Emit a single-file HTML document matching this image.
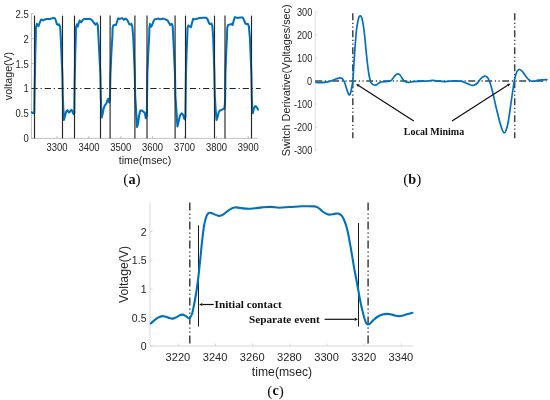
<!DOCTYPE html>
<html><head><meta charset="utf-8"><title>Figure</title>
<style>
html,body{margin:0;padding:0;background:#fff;}
body{width:550px;height:400px;overflow:hidden;}
svg{display:block;}
.tk{font-family:"Liberation Sans",Arial,sans-serif;font-size:11px;fill:#262626;}
.lb{font-family:"Liberation Sans",Arial,sans-serif;font-size:10.6px;fill:#262626;}
.an{font-family:"Liberation Serif","Times New Roman",serif;font-weight:bold;font-size:10px;fill:#111;}
.cap{font-family:"Liberation Serif","Times New Roman",serif;font-weight:bold;font-size:14.2px;fill:#111;}
.capn{font-weight:normal;font-size:15.3px;}
.tc{font-size:11.7px;}
.lbb{font-size:10.8px;}
.lc{font-size:12.2px;}
.ac{font-size:11.25px;}
</style></head>
<body>
<svg width="550" height="400" viewBox="0 0 550 400">
<rect width="550" height="400" fill="#fff"/>
<g id="pa">
<path d="M31.5,13.5V138.4H258.0" fill="none" stroke="#b4b4b4" stroke-width="0.8"/>
<path d="M31.5,138.4h2.2" stroke="#a0a0a0" stroke-width="0.7"/>
<text transform="translate(28.7,142.3) scale(0.86,1)" text-anchor="end" class="tk">0</text>
<path d="M31.5,113.5h2.2" stroke="#a0a0a0" stroke-width="0.7"/>
<text transform="translate(28.7,117.4) scale(0.86,1)" text-anchor="end" class="tk">0.5</text>
<path d="M31.5,88.5h2.2" stroke="#a0a0a0" stroke-width="0.7"/>
<text transform="translate(28.7,92.4) scale(0.86,1)" text-anchor="end" class="tk">1</text>
<path d="M31.5,63.6h2.2" stroke="#a0a0a0" stroke-width="0.7"/>
<text transform="translate(28.7,67.5) scale(0.86,1)" text-anchor="end" class="tk">1.5</text>
<path d="M31.5,38.6h2.2" stroke="#a0a0a0" stroke-width="0.7"/>
<text transform="translate(28.7,42.5) scale(0.86,1)" text-anchor="end" class="tk">2</text>
<path d="M31.5,13.7h2.2" stroke="#a0a0a0" stroke-width="0.7"/>
<text transform="translate(28.7,17.6) scale(0.86,1)" text-anchor="end" class="tk">2.5</text>
<path d="M57.0,138.4v-2.2" stroke="#a0a0a0" stroke-width="0.7"/>
<text transform="translate(57.0,151.1) scale(0.86,1)" text-anchor="middle" class="tk">3300</text>
<path d="M88.9,138.4v-2.2" stroke="#a0a0a0" stroke-width="0.7"/>
<text transform="translate(88.9,151.1) scale(0.86,1)" text-anchor="middle" class="tk">3400</text>
<path d="M120.8,138.4v-2.2" stroke="#a0a0a0" stroke-width="0.7"/>
<text transform="translate(120.8,151.1) scale(0.86,1)" text-anchor="middle" class="tk">3500</text>
<path d="M152.6,138.4v-2.2" stroke="#a0a0a0" stroke-width="0.7"/>
<text transform="translate(152.6,151.1) scale(0.86,1)" text-anchor="middle" class="tk">3600</text>
<path d="M184.5,138.4v-2.2" stroke="#a0a0a0" stroke-width="0.7"/>
<text transform="translate(184.5,151.1) scale(0.86,1)" text-anchor="middle" class="tk">3700</text>
<path d="M216.4,138.4v-2.2" stroke="#a0a0a0" stroke-width="0.7"/>
<text transform="translate(216.4,151.1) scale(0.86,1)" text-anchor="middle" class="tk">3800</text>
<path d="M248.3,138.4v-2.2" stroke="#a0a0a0" stroke-width="0.7"/>
<text transform="translate(248.3,151.1) scale(0.86,1)" text-anchor="middle" class="tk">3900</text>
<text x="145" y="164" text-anchor="middle" class="lb">time(msec)</text>
<text transform="translate(12,76) rotate(-90)" text-anchor="middle" class="lb">voltage(V)</text>
<path d="M31.5,88.5H260.6" stroke="#222" stroke-width="1" stroke-dasharray="6.2 2.9 1.2 2.9" fill="none"/>
<polyline points="31.8,112.2 33.0,113.3 34.2,112.8 34.3,112.8 34.5,96.0 34.9,75.0 35.3,52.0 35.8,36.0 35.9,28.0 36.9,23.9 37.7,25.2 38.5,26.1 39.6,23.0 41.1,19.6 42.3,19.9 43.4,20.3 45.0,19.4 46.8,18.9 49.8,19.0 51.5,18.5 53.5,17.9 55.0,18.4 56.0,21.0 56.9,24.2 58.0,25.0 59.1,24.3 60.2,27.0 60.8,38.0 61.5,55.0 62.4,75.0 62.8,96.0 63.4,110.0 63.9,120.0 65.0,116.0 66.2,111.5 67.5,110.2 68.6,112.2 69.4,112.4 70.4,110.8 71.6,109.8 72.6,112.0 73.6,114.2 74.3,113.5 74.3,113.5 74.5,96.0 74.8,75.0 75.3,52.0 75.8,36.0 75.9,28.0 77.0,24.3 77.8,26.6 78.6,23.5 79.6,20.5 80.4,21.6 81.1,22.3 82.5,20.3 84.1,18.9 86.0,18.9 88.0,19.0 90.5,19.0 92.0,20.2 93.2,21.8 94.2,23.1 95.4,24.6 96.9,23.2 97.8,25.4 98.5,38.0 99.4,55.0 100.4,75.0 100.8,96.0 101.3,110.0 101.7,117.5 102.6,114.0 103.8,108.0 105.0,105.2 106.3,103.6 107.3,100.5 108.2,98.8 109.2,102.5 109.9,99.0 110.4,75.0 111.4,52.0 112.4,36.0 112.6,28.0 113.4,25.2 114.8,25.0 116.0,25.0 116.9,22.0 118.2,18.3 119.4,19.0 120.6,18.6 122.0,18.1 123.0,18.8 123.9,19.7 124.8,19.0 125.8,18.6 127.0,19.8 128.0,21.3 129.1,23.9 129.9,24.6 131.4,23.9 132.3,26.5 133.3,38.0 134.0,55.0 134.8,75.0 135.2,96.0 136.1,110.0 137.0,127.0 138.0,124.0 139.0,116.0 140.3,110.6 142.0,110.6 143.5,111.8 144.8,113.0 145.8,118.2 146.6,116.0 146.8,116.0 147.1,96.0 147.3,75.0 148.3,52.0 149.2,36.0 149.4,28.0 150.0,23.9 151.1,26.8 152.2,25.0 153.2,22.0 154.5,19.4 156.3,18.9 158.2,18.6 160.1,19.4 161.6,18.9 163.1,18.6 165.4,19.4 167.6,20.5 169.1,23.1 170.2,25.0 171.8,23.9 172.7,26.6 173.3,38.0 174.1,55.0 175.0,75.0 175.4,96.0 176.4,110.0 177.4,126.5 178.5,122.0 180.0,115.5 181.5,113.4 183.0,114.5 184.2,118.8 185.0,119.4 185.5,116.0 185.4,116.0 185.7,96.0 185.9,75.0 186.6,52.0 187.3,36.0 187.5,28.0 188.4,25.4 189.7,26.6 190.9,27.2 192.0,23.0 193.1,18.9 194.6,19.2 196.1,19.1 198.0,18.5 199.5,18.1 203.0,17.8 206.2,17.7 207.4,19.0 208.4,21.5 209.2,23.5 210.0,24.1 211.5,23.5 212.4,26.6 213.2,38.0 213.8,55.0 214.4,75.0 214.8,96.0 215.7,110.0 216.5,120.0 217.6,117.0 218.8,112.0 220.0,110.4 221.5,110.0 223.0,109.0 224.3,108.8 224.9,104.0 225.2,96.0 225.4,75.0 226.2,52.0 227.0,36.0 227.2,28.0 228.1,25.0 230.0,24.5 231.9,24.1 232.6,25.0 233.6,21.0 234.9,17.1 236.4,17.6 237.9,17.9 240.0,17.6 242.4,17.4 243.2,18.4 243.9,19.8 245.4,23.5 246.7,23.9 248.0,24.1 248.9,26.6 249.9,38.0 250.6,55.0 251.4,75.0 251.8,96.0 252.3,110.0 252.8,113.2 253.8,109.0 255.0,106.2 256.0,106.2 257.0,107.8 258.0,109.6" fill="none" stroke="#0072BD" stroke-width="2.05" stroke-linejoin="round" stroke-linecap="round"/>
<path d="M34.5,15.6V138.4" stroke="#262626" stroke-width="1.15"/>
<path d="M62.5,15.6V138.4" stroke="#262626" stroke-width="1.15"/>
<path d="M74.5,15.6V138.4" stroke="#262626" stroke-width="1.15"/>
<path d="M100.5,15.6V138.4" stroke="#262626" stroke-width="1.15"/>
<path d="M110.1,15.6V138.4" stroke="#262626" stroke-width="1.15"/>
<path d="M134.9,15.6V138.4" stroke="#262626" stroke-width="1.15"/>
<path d="M147.0,15.6V138.4" stroke="#262626" stroke-width="1.15"/>
<path d="M175.1,15.6V138.4" stroke="#262626" stroke-width="1.15"/>
<path d="M185.5,15.6V138.4" stroke="#262626" stroke-width="1.15"/>
<path d="M214.5,15.6V138.4" stroke="#262626" stroke-width="1.15"/>
<path d="M225.0,15.6V138.4" stroke="#262626" stroke-width="1.15"/>
<path d="M251.5,15.6V138.4" stroke="#262626" stroke-width="1.15"/>
<text x="132" y="183.6" text-anchor="middle" class="cap"><tspan class="capn" dy="0.5">(</tspan><tspan dy="-0.5">a</tspan><tspan class="capn" dy="0.5">)</tspan></text>
</g>
<g id="pb">
<path d="M315.2,12.0V150.0" stroke="#d6d6d6" stroke-width="0.8"/>
<path d="M315.2,150.0h2.2" stroke="#c4c4c4" stroke-width="0.7"/>
<text transform="translate(312.2,153.9) scale(0.83,1)" text-anchor="end" class="tk">-300</text>
<path d="M315.2,127.0h2.2" stroke="#c4c4c4" stroke-width="0.7"/>
<text transform="translate(312.2,130.9) scale(0.83,1)" text-anchor="end" class="tk">-200</text>
<path d="M315.2,104.0h2.2" stroke="#c4c4c4" stroke-width="0.7"/>
<text transform="translate(312.2,107.9) scale(0.83,1)" text-anchor="end" class="tk">-100</text>
<path d="M315.2,81.0h2.2" stroke="#c4c4c4" stroke-width="0.7"/>
<text transform="translate(312.2,84.9) scale(0.83,1)" text-anchor="end" class="tk">0</text>
<path d="M315.2,58.0h2.2" stroke="#c4c4c4" stroke-width="0.7"/>
<text transform="translate(312.2,61.9) scale(0.83,1)" text-anchor="end" class="tk">100</text>
<path d="M315.2,35.0h2.2" stroke="#c4c4c4" stroke-width="0.7"/>
<text transform="translate(312.2,38.9) scale(0.83,1)" text-anchor="end" class="tk">200</text>
<path d="M315.2,12.0h2.2" stroke="#c4c4c4" stroke-width="0.7"/>
<text transform="translate(312.2,15.9) scale(0.83,1)" text-anchor="end" class="tk">300</text>
<text transform="translate(289.5,80.3) rotate(-90)" text-anchor="middle" class="lb lbb">Switch Derivative(Vpltages/sec)</text>
<path d="M315.2,81.0H546.5" stroke="#444" stroke-width="1.5" stroke-dasharray="7 2.6 1.2 2.5 1.2 2.5" fill="none"/>
<path d="M352.8,13.2V138.3" stroke="#444" stroke-width="1.5" stroke-dasharray="7 2.6 1.2 2.5 1.2 2.5" fill="none"/>
<path d="M514.7,13.2V138.3" stroke="#444" stroke-width="1.5" stroke-dasharray="7 2.6 1.2 2.5 1.2 2.5" fill="none"/>
<path d="M316.0,82.4C316.8,82.5 319.3,82.7 321.0,82.7C322.7,82.7 324.3,82.5 326.0,82.2C327.7,81.9 329.3,81.4 331.0,80.9C332.7,80.4 334.5,79.5 336.0,79.0C337.5,78.5 338.9,77.9 340.0,77.9C341.1,77.9 341.8,78.1 342.5,78.8C343.2,79.5 343.8,80.6 344.5,82.2C345.2,83.8 345.9,86.6 346.5,88.5C347.1,90.4 347.8,92.5 348.3,93.6C348.8,94.7 349.1,95.1 349.5,94.9C349.9,94.7 350.4,93.8 350.8,92.3C351.2,90.8 351.6,88.2 352.0,86.0C352.4,83.8 352.6,84.2 353.0,79.0C353.4,73.8 353.9,63.2 354.5,55.0C355.1,46.8 355.8,36.1 356.5,30.0C357.2,23.9 357.9,20.9 358.5,18.5C359.1,16.1 359.7,15.8 360.3,15.8C360.9,15.8 361.4,16.1 362.0,18.5C362.6,20.9 363.2,23.9 364.0,30.0C364.8,36.1 365.7,47.5 366.5,55.0C367.3,62.5 368.2,70.4 369.0,75.0C369.8,79.6 370.3,80.9 371.0,82.5C371.7,84.1 372.4,84.1 373.0,84.6C373.6,85.0 374.2,85.2 374.9,85.2C375.6,85.2 376.3,84.8 377.0,84.4C377.7,84.0 378.3,83.4 379.0,83.0C379.7,82.6 380.2,82.2 381.0,82.0C381.8,81.8 382.8,81.7 384.0,81.6C385.2,81.5 386.9,81.6 388.0,81.5C389.1,81.4 389.9,81.3 390.7,80.8C391.5,80.3 392.2,79.2 393.0,78.3C393.8,77.3 394.7,75.8 395.5,75.1C396.3,74.3 396.9,73.8 397.7,73.8C398.4,73.8 399.2,74.2 400.0,75.0C400.8,75.8 401.6,77.5 402.3,78.6C403.1,79.6 403.7,80.7 404.5,81.3C405.3,81.9 406.1,82.0 407.0,82.2C407.9,82.4 408.6,82.4 409.6,82.3C410.6,82.2 411.8,81.8 413.0,81.7C414.2,81.6 415.5,81.5 417.0,81.4C418.5,81.3 420.2,81.3 422.0,81.2C423.8,81.1 426.2,81.1 428.0,81.0C429.8,80.9 431.3,80.4 433.0,80.4C434.7,80.4 436.2,80.8 438.0,81.0C439.8,81.2 442.0,81.6 444.0,81.6C446.0,81.6 448.0,81.3 450.0,81.2C452.0,81.1 454.2,80.8 456.0,80.8C457.8,80.8 459.3,80.8 461.0,81.2C462.7,81.6 464.5,82.4 466.0,83.0C467.5,83.6 468.7,84.4 470.0,84.8C471.3,85.2 472.4,85.5 473.6,85.3C474.8,85.1 475.9,84.5 477.0,83.5C478.1,82.5 479.4,80.2 480.5,79.0C481.6,77.8 482.7,77.0 483.5,76.6C484.3,76.1 484.8,76.1 485.5,76.3C486.2,76.5 486.8,76.6 487.5,77.5C488.2,78.4 488.8,79.2 489.6,81.5C490.4,83.8 491.4,86.9 492.4,91.0C493.4,95.1 494.6,101.0 495.8,106.0C497.0,111.0 498.4,117.0 499.5,121.0C500.6,125.0 501.5,128.0 502.3,130.0C503.1,132.0 503.6,132.8 504.2,132.9C504.8,133.0 505.3,132.4 506.0,130.5C506.7,128.6 507.5,126.1 508.3,121.5C509.1,116.9 510.2,108.6 511.0,103.0C511.8,97.4 512.6,92.1 513.2,88.0C513.8,83.9 514.2,81.1 514.8,78.5C515.3,75.9 515.9,73.9 516.5,72.5C517.1,71.1 517.8,70.5 518.3,70.0C518.8,69.5 519.1,69.4 519.6,69.5C520.1,69.6 520.9,69.9 521.5,70.5C522.1,71.1 522.8,72.0 523.5,73.0C524.2,74.0 525.2,75.5 526.0,76.5C526.8,77.5 527.7,78.5 528.5,79.3C529.3,80.0 530.1,80.7 531.0,81.0C531.9,81.3 532.8,81.3 534.0,81.2C535.2,81.1 536.7,80.4 538.0,80.2C539.3,80.0 540.5,79.9 542.0,79.8C543.5,79.7 546.0,79.6 546.8,79.6" fill="none" stroke="#0072BD" stroke-width="1.7" stroke-linejoin="round" stroke-linecap="round"/>
<path d="M413.8,121.0L358.9,85.7" stroke="#111" stroke-width="1.25" fill="none"/><path d="M356.0,83.9L359.7,84.5L358.1,87.0Z" fill="#111"/>
<path d="M452.0,121.0L507.7,85.3" stroke="#111" stroke-width="1.25" fill="none"/><path d="M510.6,83.5L508.5,86.6L506.9,84.1Z" fill="#111"/>
<text x="434" y="135.2" text-anchor="middle" class="an">Local Minima</text>
<text x="412.3" y="183.6" text-anchor="middle" class="cap"><tspan class="capn" dy="0.5">(</tspan><tspan dy="-0.5">b</tspan><tspan class="capn" dy="0.5">)</tspan></text>
</g>
<g id="pc">
<path d="M150.0,202.4V346.0H413.0" fill="none" stroke="#cdcdcd" stroke-width="0.8"/>
<path d="M150.0,346.0h2.5" stroke="#c8c8c8" stroke-width="0.7"/>
<text transform="translate(146.5,350.1) scale(0.9,1)" text-anchor="end" class="tk tc">0</text>
<path d="M150.0,317.4h2.5" stroke="#c8c8c8" stroke-width="0.7"/>
<text transform="translate(146.5,321.5) scale(0.9,1)" text-anchor="end" class="tk tc">0.5</text>
<path d="M150.0,288.8h2.5" stroke="#c8c8c8" stroke-width="0.7"/>
<text transform="translate(146.5,292.9) scale(0.9,1)" text-anchor="end" class="tk tc">1</text>
<path d="M150.0,260.2h2.5" stroke="#c8c8c8" stroke-width="0.7"/>
<text transform="translate(146.5,264.3) scale(0.9,1)" text-anchor="end" class="tk tc">1.5</text>
<path d="M150.0,231.6h2.5" stroke="#c8c8c8" stroke-width="0.7"/>
<text transform="translate(146.5,235.7) scale(0.9,1)" text-anchor="end" class="tk tc">2</text>
<path d="M178.3,346.0v-2.5" stroke="#c8c8c8" stroke-width="0.7"/>
<text transform="translate(177.9,360.5) scale(0.95,1)" text-anchor="middle" class="tk tc">3220</text>
<path d="M215.5,346.0v-2.5" stroke="#c8c8c8" stroke-width="0.7"/>
<text transform="translate(215.1,360.5) scale(0.95,1)" text-anchor="middle" class="tk tc">3240</text>
<path d="M252.6,346.0v-2.5" stroke="#c8c8c8" stroke-width="0.7"/>
<text transform="translate(252.2,360.5) scale(0.95,1)" text-anchor="middle" class="tk tc">3260</text>
<path d="M289.8,346.0v-2.5" stroke="#c8c8c8" stroke-width="0.7"/>
<text transform="translate(289.4,360.5) scale(0.95,1)" text-anchor="middle" class="tk tc">3280</text>
<path d="M327.0,346.0v-2.5" stroke="#c8c8c8" stroke-width="0.7"/>
<text transform="translate(326.6,360.5) scale(0.95,1)" text-anchor="middle" class="tk tc">3300</text>
<path d="M364.1,346.0v-2.5" stroke="#c8c8c8" stroke-width="0.7"/>
<text transform="translate(363.7,360.5) scale(0.95,1)" text-anchor="middle" class="tk tc">3320</text>
<path d="M401.3,346.0v-2.5" stroke="#c8c8c8" stroke-width="0.7"/>
<text transform="translate(400.9,360.5) scale(0.95,1)" text-anchor="middle" class="tk tc">3340</text>
<text x="282" y="376.3" text-anchor="middle" class="lb lc">time(msec)</text>
<text transform="translate(127.5,274.5) rotate(-90)" text-anchor="middle" class="lb lc">Voltage(V)</text>
<path d="M189.8,202.6V346" stroke="#333" stroke-width="1.4" stroke-dasharray="8 2.8 1.3 2.8 1.3 2.8" fill="none"/>
<path d="M368.1,202.6V346" stroke="#333" stroke-width="1.4" stroke-dasharray="8 2.8 1.3 2.8 1.3 2.8" fill="none"/>
<path d="M198.5,225.4V326.5" stroke="#1a1a1a" stroke-width="1"/>
<path d="M358.5,223V326.5" stroke="#1a1a1a" stroke-width="1"/>
<path d="M150.8,323.4C151.3,322.9 152.8,321.6 154.0,320.6C155.2,319.6 156.6,318.4 158.0,317.6C159.4,316.9 161.2,316.2 162.5,316.1C163.8,316.0 164.8,316.5 166.0,316.8C167.2,317.1 168.4,317.8 169.5,318.1C170.6,318.4 171.5,318.7 172.6,318.6C173.7,318.5 174.8,317.9 176.0,317.4C177.2,316.9 178.4,315.9 179.5,315.4C180.6,314.9 181.4,314.5 182.5,314.6C183.6,314.7 184.8,315.6 186.0,316.2C187.2,316.8 188.4,318.7 189.4,318.3C190.4,317.9 191.2,316.2 192.0,314.0C192.8,311.8 193.3,308.3 194.0,305.0C194.7,301.7 195.3,298.2 196.0,294.0C196.7,289.8 197.3,285.3 198.0,280.0C198.7,274.7 199.3,268.3 200.0,262.0C200.7,255.7 201.3,248.0 202.0,242.0C202.7,236.0 203.3,230.1 204.0,226.0C204.7,221.9 205.4,219.5 206.0,217.5C206.6,215.5 207.2,214.6 207.8,213.8C208.4,213.0 208.9,212.9 209.6,212.8C210.3,212.7 211.1,212.9 212.0,213.2C212.9,213.5 214.1,214.2 215.0,214.6C215.9,215.0 216.7,215.3 217.5,215.5C218.3,215.7 218.9,216.0 219.8,215.8C220.7,215.7 221.8,215.3 223.0,214.6C224.2,213.9 225.7,212.6 227.0,211.6C228.3,210.6 229.8,209.5 231.0,208.8C232.2,208.1 233.3,207.7 234.5,207.5C235.7,207.3 236.6,207.4 238.0,207.6C239.4,207.8 241.2,208.2 243.0,208.4C244.8,208.6 246.8,208.8 248.8,208.8C250.8,208.8 252.8,208.4 255.0,208.2C257.2,208.0 259.4,207.6 262.0,207.4C264.6,207.2 267.7,206.9 270.6,206.9C273.5,206.9 276.3,207.7 279.5,207.7C282.7,207.7 286.4,207.2 290.0,207.0C293.6,206.8 298.4,206.4 301.4,206.3C304.4,206.2 305.8,206.2 308.0,206.2C310.2,206.2 312.8,206.2 314.5,206.4C316.2,206.6 316.8,206.9 318.0,207.6C319.2,208.3 320.4,209.8 321.7,210.8C322.9,211.8 324.3,212.8 325.5,213.4C326.7,214.0 327.8,214.5 329.0,214.6C330.2,214.7 331.8,214.4 333.0,214.2C334.2,214.0 335.2,213.7 336.0,213.6C336.8,213.5 337.2,213.3 338.0,213.5C338.8,213.7 339.8,214.0 340.5,214.6C341.2,215.2 341.8,215.7 342.5,216.8C343.2,217.9 343.9,219.5 344.5,221.0C345.1,222.5 345.7,224.0 346.3,226.0C346.9,228.0 347.2,229.3 348.0,233.0C348.8,236.7 349.8,242.5 350.8,248.0C351.8,253.5 352.8,260.3 353.8,266.0C354.8,271.7 355.8,276.7 356.8,282.0C357.8,287.3 358.8,293.2 359.7,298.0C360.6,302.8 361.6,307.4 362.5,311.0C363.4,314.6 364.1,317.4 364.8,319.5C365.5,321.6 365.9,322.7 366.5,323.5C367.1,324.3 367.6,324.4 368.3,324.4C369.0,324.3 369.6,324.0 370.5,323.2C371.4,322.4 372.8,320.7 374.0,319.6C375.2,318.5 376.6,317.3 378.0,316.5C379.4,315.7 380.9,315.0 382.5,314.6C384.1,314.2 385.7,313.9 387.3,313.9C388.9,313.9 390.6,314.3 392.0,314.6C393.4,314.9 394.8,315.6 396.0,315.8C397.2,316.1 397.8,316.2 399.0,316.1C400.2,316.1 401.5,315.9 403.0,315.5C404.5,315.1 406.4,314.4 408.0,314.0C409.6,313.6 411.7,313.0 412.4,312.8" fill="none" stroke="#0072BD" stroke-width="2.1" stroke-linejoin="round" stroke-linecap="round"/>
<path d="M213.8,304.5L202.3,304.5" stroke="#111" stroke-width="1.2" fill="none"/><path d="M199.1,304.5L202.3,302.9L202.3,306.1Z" fill="#111"/>
<text x="214.5" y="308.2" class="an ac">Initial contact</text>
<path d="M324.6,319.3L354.7,319.3" stroke="#111" stroke-width="1.2" fill="none"/><path d="M357.9,319.3L354.7,320.9L354.7,317.7Z" fill="#111"/>
<text x="319.8" y="322.9" text-anchor="end" class="an ac">Separate event</text>
<text x="275.6" y="395" text-anchor="middle" class="cap"><tspan class="capn" dy="0.5">(</tspan><tspan dy="-0.5">c</tspan><tspan class="capn" dy="0.5">)</tspan></text>
</g>
</svg>
</body></html>
